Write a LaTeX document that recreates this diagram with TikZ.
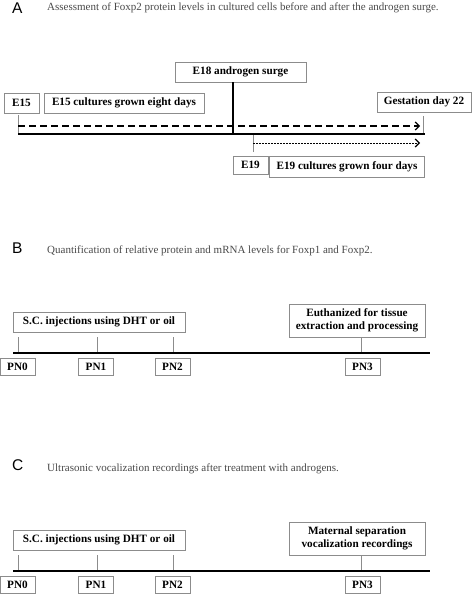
\documentclass[tikz,border=0pt]{standalone}
\usepackage{fontspec}
\setmainfont{Liberation Serif}
\newfontfamily\panelfont{Liberation Sans}
\usetikzlibrary{arrows.meta}
\definecolor{titlegray}{HTML}{4A4A4A}
\definecolor{boxgray}{HTML}{8C8C8C}
\begin{document}
\begin{tikzpicture}[x=1pt,y=-1pt,
  box/.style={draw=boxgray, line width=0.9pt, inner sep=0pt, align=center,
    font=\bfseries\fontsize{11.2}{13.3}\selectfont},
  panel/.style={anchor=base west, inner sep=0pt, font=\panelfont\fontsize{15.5}{15.5}\selectfont},
  ptitle/.style={anchor=base west, inner sep=0pt, text=titlegray, font=\fontsize{11}{13}\selectfont},
  axis/.style={line width=2.8pt},
  tick/.style={draw=boxgray, line width=0.9pt},
  dasharrow/.style={line width=1.3pt, dash pattern=on 7pt off 4pt, -{Straight Barb[length=4pt,width=8pt,line width=1.2pt]}},
  dotarrow/.style={line width=0.9pt, dash pattern=on 2pt off 1pt, -{Straight Barb[length=4pt,width=8pt,line width=1.2pt]}}
]
\useasboundingbox[fill=white] (0,0) rectangle (474,594);

% ---------------- Panel A ----------------
\node[panel] (la) at (12,14) {A};
\node[ptitle] (ta) at (47,11) {Assessment of Foxp2 protein levels in cultured cells before and after the androgen surge.};

\node[box, minimum width=131pt, minimum height=20pt] (e18) at (240.5,72) {E18 androgen surge};
\node[box, minimum width=35pt, minimum height=20pt] (e15) at (21.5,103) {E15};
\node[box, minimum width=160pt, minimum height=20pt] (e15c) at (124,103) {E15 cultures grown eight days};
\node[box, minimum width=94pt, minimum height=20pt] (gest) at (424,102) {Gestation day 22};
\node[box, minimum width=35pt, minimum height=18pt] (e19) at (250.5,165) {E19};
\node[box, minimum width=155pt, minimum height=20.5pt] (e19c) at (347,167) {E19 cultures grown four days};

\coordinate (a0) at (18,134);
\coordinate (a1) at (425,134);
\coordinate (surge) at (233,134);
\coordinate (t15) at (18,115);
\coordinate (t22top) at (423,116);
\coordinate (t22) at (423,134);
\coordinate (t19) at (253,134);
\coordinate (t19b) at (253,152);
\coordinate (d0) at (18,126);
\coordinate (d1) at (420,126);
\coordinate (p0) at (253,143);
\coordinate (p1) at (420,143);

\draw[tick] (t15) -- (a0);
\draw[tick] (t22top) -- (t22);
\draw[tick] (t19) -- (t19b);
\draw[dasharrow] (d0) -- (d1);
\draw[dotarrow] (p0) -- (p1);
\draw[axis] (a0) -- (a1);
\draw[axis] (surge |- e18.south) -- (surge);

% ---------------- Panel B ----------------
\node[panel] (lb) at (12,253) {B};
\node[ptitle] (tb) at (47,253) {Quantification of relative protein and mRNA levels for Foxp1 and Foxp2.};

\node[box, minimum width=172pt, minimum height=20pt] (scb) at (99,322) {S.C. injections using DHT or oil};
\node[box, minimum width=136pt, minimum height=33pt] (euth) at (357,320.5) {Euthanized for tissue\\extraction and processing};
\node[box, minimum width=35pt, minimum height=17pt] (bpn0) at (17.5,366.5) {PN0};
\node[box, minimum width=35pt, minimum height=17pt] (bpn1) at (96,366.5) {PN1};
\node[box, minimum width=35pt, minimum height=17pt] (bpn2) at (172.5,366.5) {PN2};
\node[box, minimum width=35pt, minimum height=17pt] (bpn3) at (362.5,366.5) {PN3};

\coordinate (b0) at (13,353);
\coordinate (b1) at (430,353);
\foreach \x/\n in {18/0,97/1,173/2}{
  \coordinate (bt\n) at (\x,337);
  \coordinate (bb\n) at (\x,353);
  \draw[tick] (bt\n) -- (bb\n);
}
\coordinate (bb3) at (361,353);
\draw[tick] (euth.south -| bb3) -- (bb3);
\draw[axis] (b0) -- (b1);

% ---------------- Panel C ----------------
\node[panel] (lc) at (12,470.5) {C};
\node[ptitle] (tc) at (47,471) {Ultrasonic vocalization recordings after treatment with androgens.};

\node[box, minimum width=172pt, minimum height=20pt] (scc) at (99,540) {S.C. injections using DHT or oil};
\node[box, minimum width=136pt, minimum height=33pt] (mat) at (357,538.5) {Maternal separation\\vocalization recordings};
\node[box, minimum width=35pt, minimum height=17pt] (cpn0) at (17.5,584.5) {PN0};
\node[box, minimum width=35pt, minimum height=17pt] (cpn1) at (96,584.5) {PN1};
\node[box, minimum width=35pt, minimum height=17pt] (cpn2) at (172.5,584.5) {PN2};
\node[box, minimum width=35pt, minimum height=17pt] (cpn3) at (362.5,584.5) {PN3};

\coordinate (c0) at (13,571);
\coordinate (c1) at (430,571);
\foreach \x/\n in {18/0,97/1,173/2}{
  \coordinate (ct\n) at (\x,555);
  \coordinate (cb\n) at (\x,571);
  \draw[tick] (ct\n) -- (cb\n);
}
\coordinate (cb3) at (361,571);
\draw[tick] (mat.south -| cb3) -- (cb3);
\draw[axis] (c0) -- (c1);
\end{tikzpicture}
\end{document}
